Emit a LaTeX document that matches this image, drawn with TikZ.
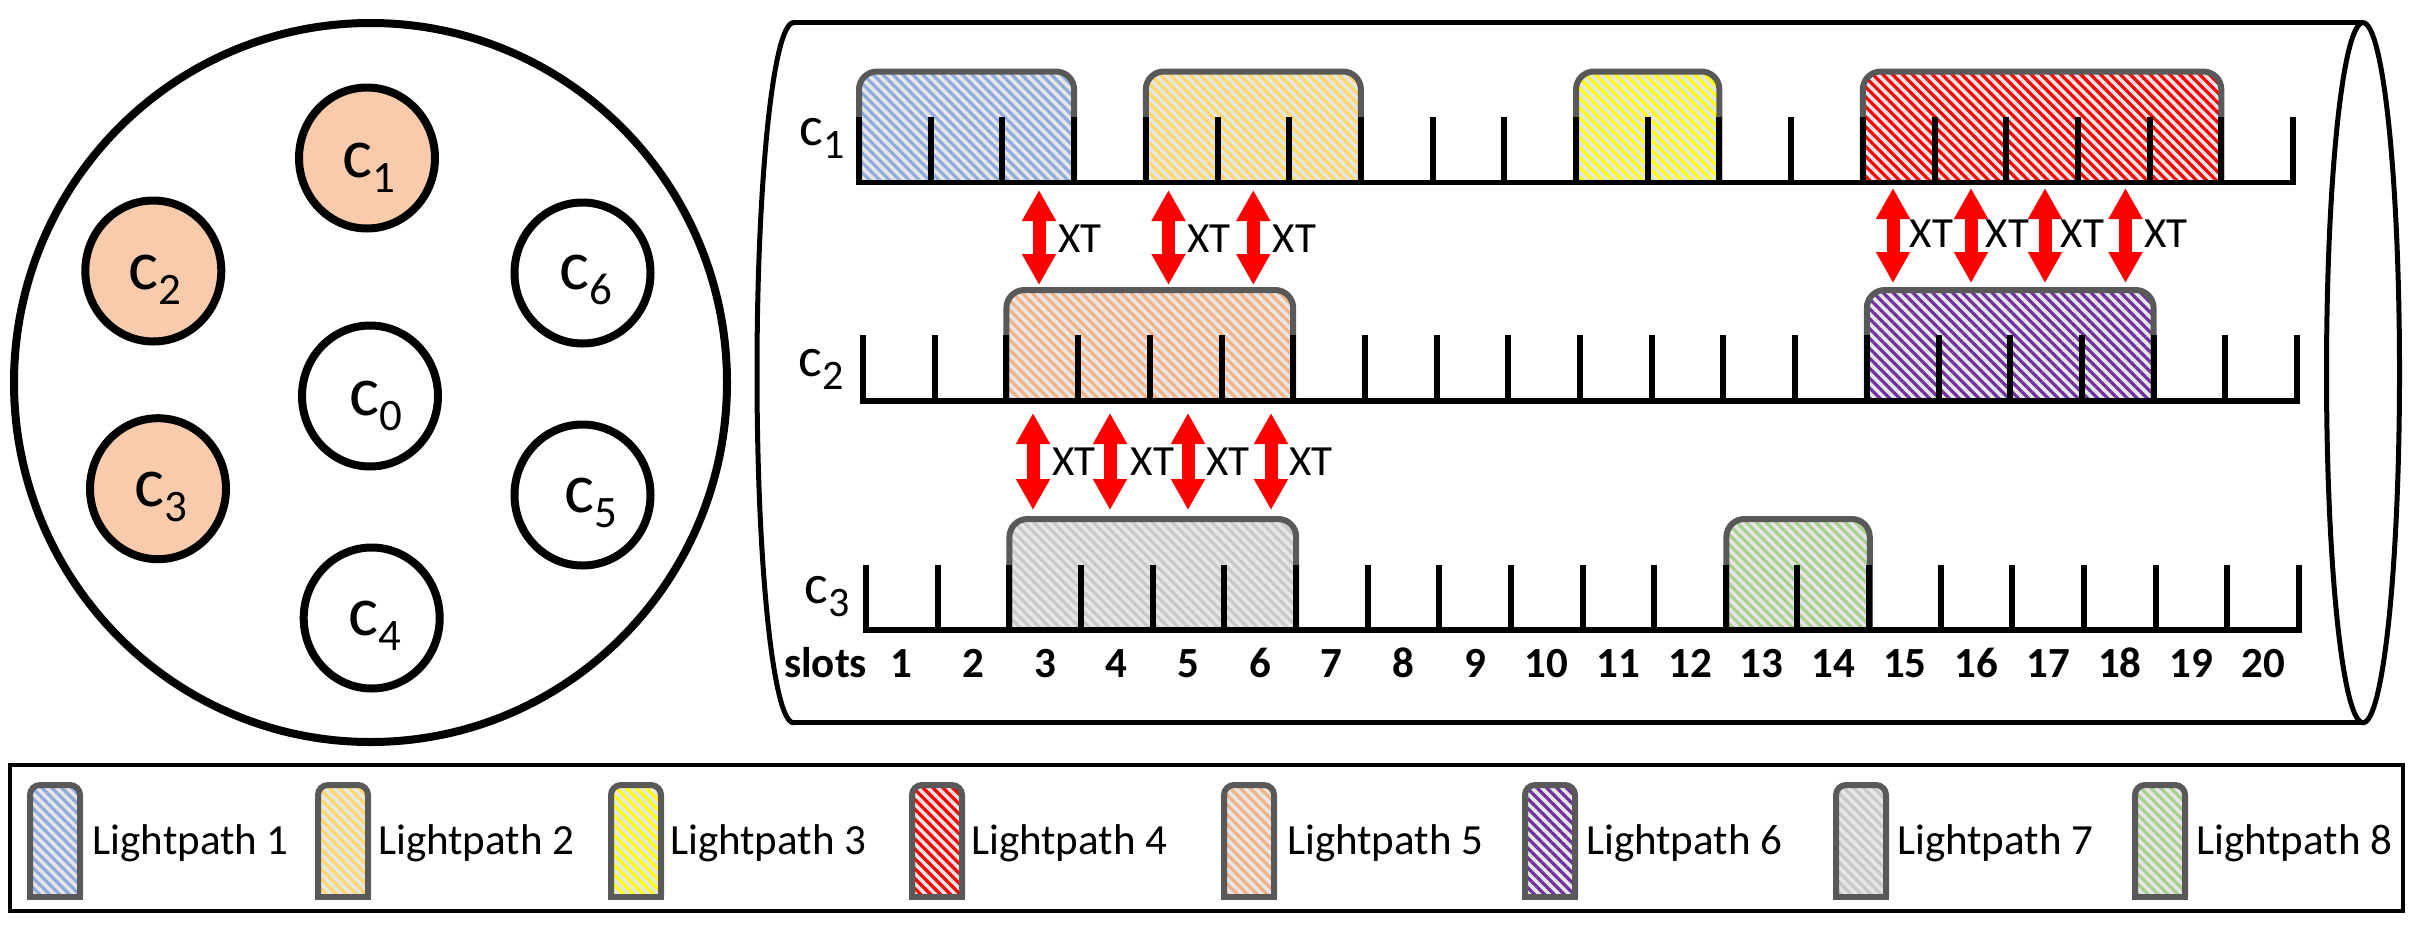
\documentclass[tikz,border=0pt]{standalone}
\usepackage{fontspec}
\setmainfont{Carlito}
\usetikzlibrary{arrows.meta,patterns.meta,shapes.geometric}
\definecolor{peach}{HTML}{F8CBAD}
\definecolor{bordergray}{HTML}{595959}
\definecolor{hatchbg}{HTML}{E6E6E6}
\definecolor{xtred}{HTML}{FF0000}
\definecolor{lpA}{HTML}{8FAADC}
\definecolor{lpB}{HTML}{FFD966}
\definecolor{lpC}{HTML}{FFFF00}
\definecolor{lpD}{HTML}{FF0000}
\definecolor{lpE}{HTML}{F4B183}
\definecolor{lpF}{HTML}{7030A0}
\definecolor{lpG}{HTML}{C9C9C9}
\definecolor{lpH}{HTML}{A9D18E}
\newcommand{\csub}[1]{c\raisebox{-15pt}{\fontsize{45}{45}\selectfont #1}}
\newcommand{\rsub}[1]{c\raisebox{-13pt}{\fontsize{42}{42}\selectfont #1}}
\tikzset{
  core/.style={ellipse, draw, line width=8pt, minimum width=136pt, minimum height=141pt, inner sep=0pt},
  corelbl/.style={anchor=base, inner sep=0pt, font=\fontsize{71}{71}\selectfont},
  rowlbl/.style={anchor=base, inner sep=0pt, font=\fontsize{56}{56}\selectfont},
  xtlbl/.style={anchor=base west, inner sep=0pt, font=\fontsize{43}{43}\selectfont},
  slotnum/.style={anchor=base, inner sep=0pt, font=\fontsize{43}{43}\selectfont\bfseries},
  leglbl/.style={anchor=base west, inner sep=0pt, font=\fontsize{43}{43}\selectfont},
  xtarrow/.style={draw=xtred, line width=13pt, {Triangle[width=32pt,length=31pt]}-{Triangle[width=32pt,length=31pt]}},
  lpborder/.style={draw=bordergray, line width=6pt},
  slottick/.style={draw=black, line width=6pt},
  axisline/.style={draw=black, line width=5.5pt},
  cylline/.style={draw=black, line width=5pt},
  hatchfill/.style={preaction={fill=hatchbg},
        preaction={pattern={Lines[angle=-45,distance=7pt,line width=3.2pt]}, pattern color=#1}},
}
% #1 row start x, #2 first tick, #3 last tick, #4 axis y, #5 colour
\newcommand{\lpbox}[5]{%
  \pgfmathsetmacro\lpxa{#1+71.7*(#2)}%
  \pgfmathsetmacro\lpxb{#1+71.7*(#3)}%
  \pgfmathsetmacro\lpyt{#4-111}%
  \draw[lpborder, rounded corners=18pt, hatchfill=#5]
    (\lpxa,#4) -- (\lpxa,\lpyt) -- (\lpxb,\lpyt) -- (\lpxb,#4);%
}
% #1 left x, #2 colour
\newcommand{\legswatch}[2]{%
  \draw[lpborder, rounded corners=10pt, hatchfill=#2]
    (#1,897) -- (#1,785) -- (#1+50,785) -- (#1+50,897);%
  \draw[lpborder] (#1-3,897) -- (#1+53,897);%
}
\begin{document}
\begin{tikzpicture}[x=1pt,y=-1pt]
\useasboundingbox (0,0) rectangle (2417,924);
\fill[white] (0,0) rectangle (2417,924);

% ---------- fibre cross-section ----------
\draw[line width=8pt] (370.5,382.5) ellipse [x radius=356.5, y radius=359.5];
\node[core, fill=peach] (k1) at (367,158) {};
\node[core, fill=peach] (k2) at (153.3,271) {};
\node[core, fill=peach] (k3) at (158,488.7) {};
\node[core, fill=white] (k0) at (370,396) {};
\node[core, fill=white] (k6) at (582.5,273) {};
\node[core, fill=white] (k5) at (582.5,495) {};
\node[core, fill=white] (k4) at (371.7,618) {};
\node[corelbl] (k1l) at (369,177) {\csub{1}};
\node[corelbl] (k2l) at (155,289) {\csub{2}};
\node[corelbl] (k3l) at (161,506) {\csub{3}};
\node[corelbl] (k0l) at (376,415) {\csub{0}};
\node[corelbl] (k6l) at (586,289) {\csub{6}};
\node[corelbl] (k5l) at (591,512.7) {\csub{5}};
\node[corelbl] (k4l) at (374.5,635) {\csub{4}};

% ---------- cylinder ----------
\begin{scope}
  \clip (700,0) rectangle (794,924);
  \draw[cylline] (793.5,372.7) ellipse [x radius=36.5, y radius=350];
\end{scope}
\draw[cylline] (793,22.7) -- (2363,22.7);
\draw[cylline] (793,722.7) -- (2363,722.7);
\draw[cylline] (2363,372.7) ellipse [x radius=36.5, y radius=350];

% ---------- lightpath boxes ----------
\lpbox{859}{0}{3}{182.5}{lpA}
\lpbox{859}{4}{7}{182.5}{lpB}
\lpbox{859}{10}{12}{182.5}{lpC}
\lpbox{859}{14}{19}{182.5}{lpD}
\lpbox{863}{2}{6}{401}{lpE}
\lpbox{863}{14}{18}{401}{lpF}
\lpbox{866}{2}{6}{630}{lpG}
\lpbox{866}{12}{14}{630}{lpH}

% ---------- slot axes ----------
\foreach \k in {0,...,20} {
  \draw[slottick] (859+71.7*\k,182.5) -- (859+71.7*\k,116.5);
  \draw[slottick] (863+71.7*\k,401) -- (863+71.7*\k,335);
  \draw[slottick] (866+71.65*\k,630) -- (866+71.65*\k,565);
}
\draw[axisline] (856,182.5) -- (2296,182.5);
\draw[axisline] (860,401) -- (2300,401);
\draw[axisline] (863,630) -- (2302,630);

\node[rowlbl] (r1) at (822,145) {\rsub{1}};
\node[rowlbl] (r2) at (821,376.7) {\rsub{2}};
\node[rowlbl] (r3) at (827,603) {\rsub{3}};

\node[slotnum, anchor=base west] (slots) at (784,677) {slots};
\foreach \i in {1,...,20} {
  \node[slotnum] (s\i) at (866+71.65*\i-35.8,677) {\i};
}

% ---------- crosstalk arrows ----------
\foreach \n/\x in {a/1039, b/1168.5, c/1253.3} {
  \coordinate (\n t) at (\x,190);
  \coordinate (\n b) at (\x,285);
  \draw[xtarrow] (\n t) -- (\n b);
}
\foreach \n/\x in {d/1893, e/1971, f/2045, g/2125.5} {
  \coordinate (\n t) at (\x,188);
  \coordinate (\n b) at (\x,283);
  \draw[xtarrow] (\n t) -- (\n b);
}
\foreach \n/\x in {h/1033, i/1110, j/1188, k/1271} {
  \coordinate (\n t) at (\x,413);
  \coordinate (\n b) at (\x,510);
  \draw[xtarrow] (\n t) -- (\n b);
}
\node[xtlbl] (xa) at (1058,252) {XT};
\node[xtlbl] (xb) at (1187,252) {XT};
\node[xtlbl] (xc) at (1272.5,252) {XT};
\node[xtlbl] (xd) at (1909.6,247) {XT};
\node[xtlbl] (xe) at (1985.5,247) {XT};
\node[xtlbl] (xf) at (2060.7,247) {XT};
\node[xtlbl] (xg) at (2144,247) {XT};
\node[xtlbl] (xh) at (1052.4,475) {XT};
\node[xtlbl] (xi) at (1130.5,475) {XT};
\node[xtlbl] (xj) at (1206.4,475) {XT};
\node[xtlbl] (xk) at (1289,475) {XT};

% ---------- legend ----------
\draw[line width=4pt] (10,765) rectangle (2403,911);
\legswatch{30}{lpA}
\legswatch{318}{lpB}
\legswatch{611}{lpC}
\legswatch{912}{lpD}
\legswatch{1224}{lpE}
\legswatch{1525}{lpF}
\legswatch{1836}{lpG}
\legswatch{2135}{lpH}
\node[leglbl] (l1) at (92.6,854) {Lightpath 1};
\node[leglbl] (l2) at (378,854) {Lightpath 2};
\node[leglbl] (l3) at (670,854) {Lightpath 3};
\node[leglbl] (l4) at (971,854) {Lightpath 4};
\node[leglbl] (l5) at (1287,854) {Lightpath 5};
\node[leglbl] (l6) at (1586,854) {Lightpath 6};
\node[leglbl] (l7) at (1897,854) {Lightpath 7};
\node[leglbl] (l8) at (2196,854) {Lightpath 8};
\end{tikzpicture}
\end{document}
